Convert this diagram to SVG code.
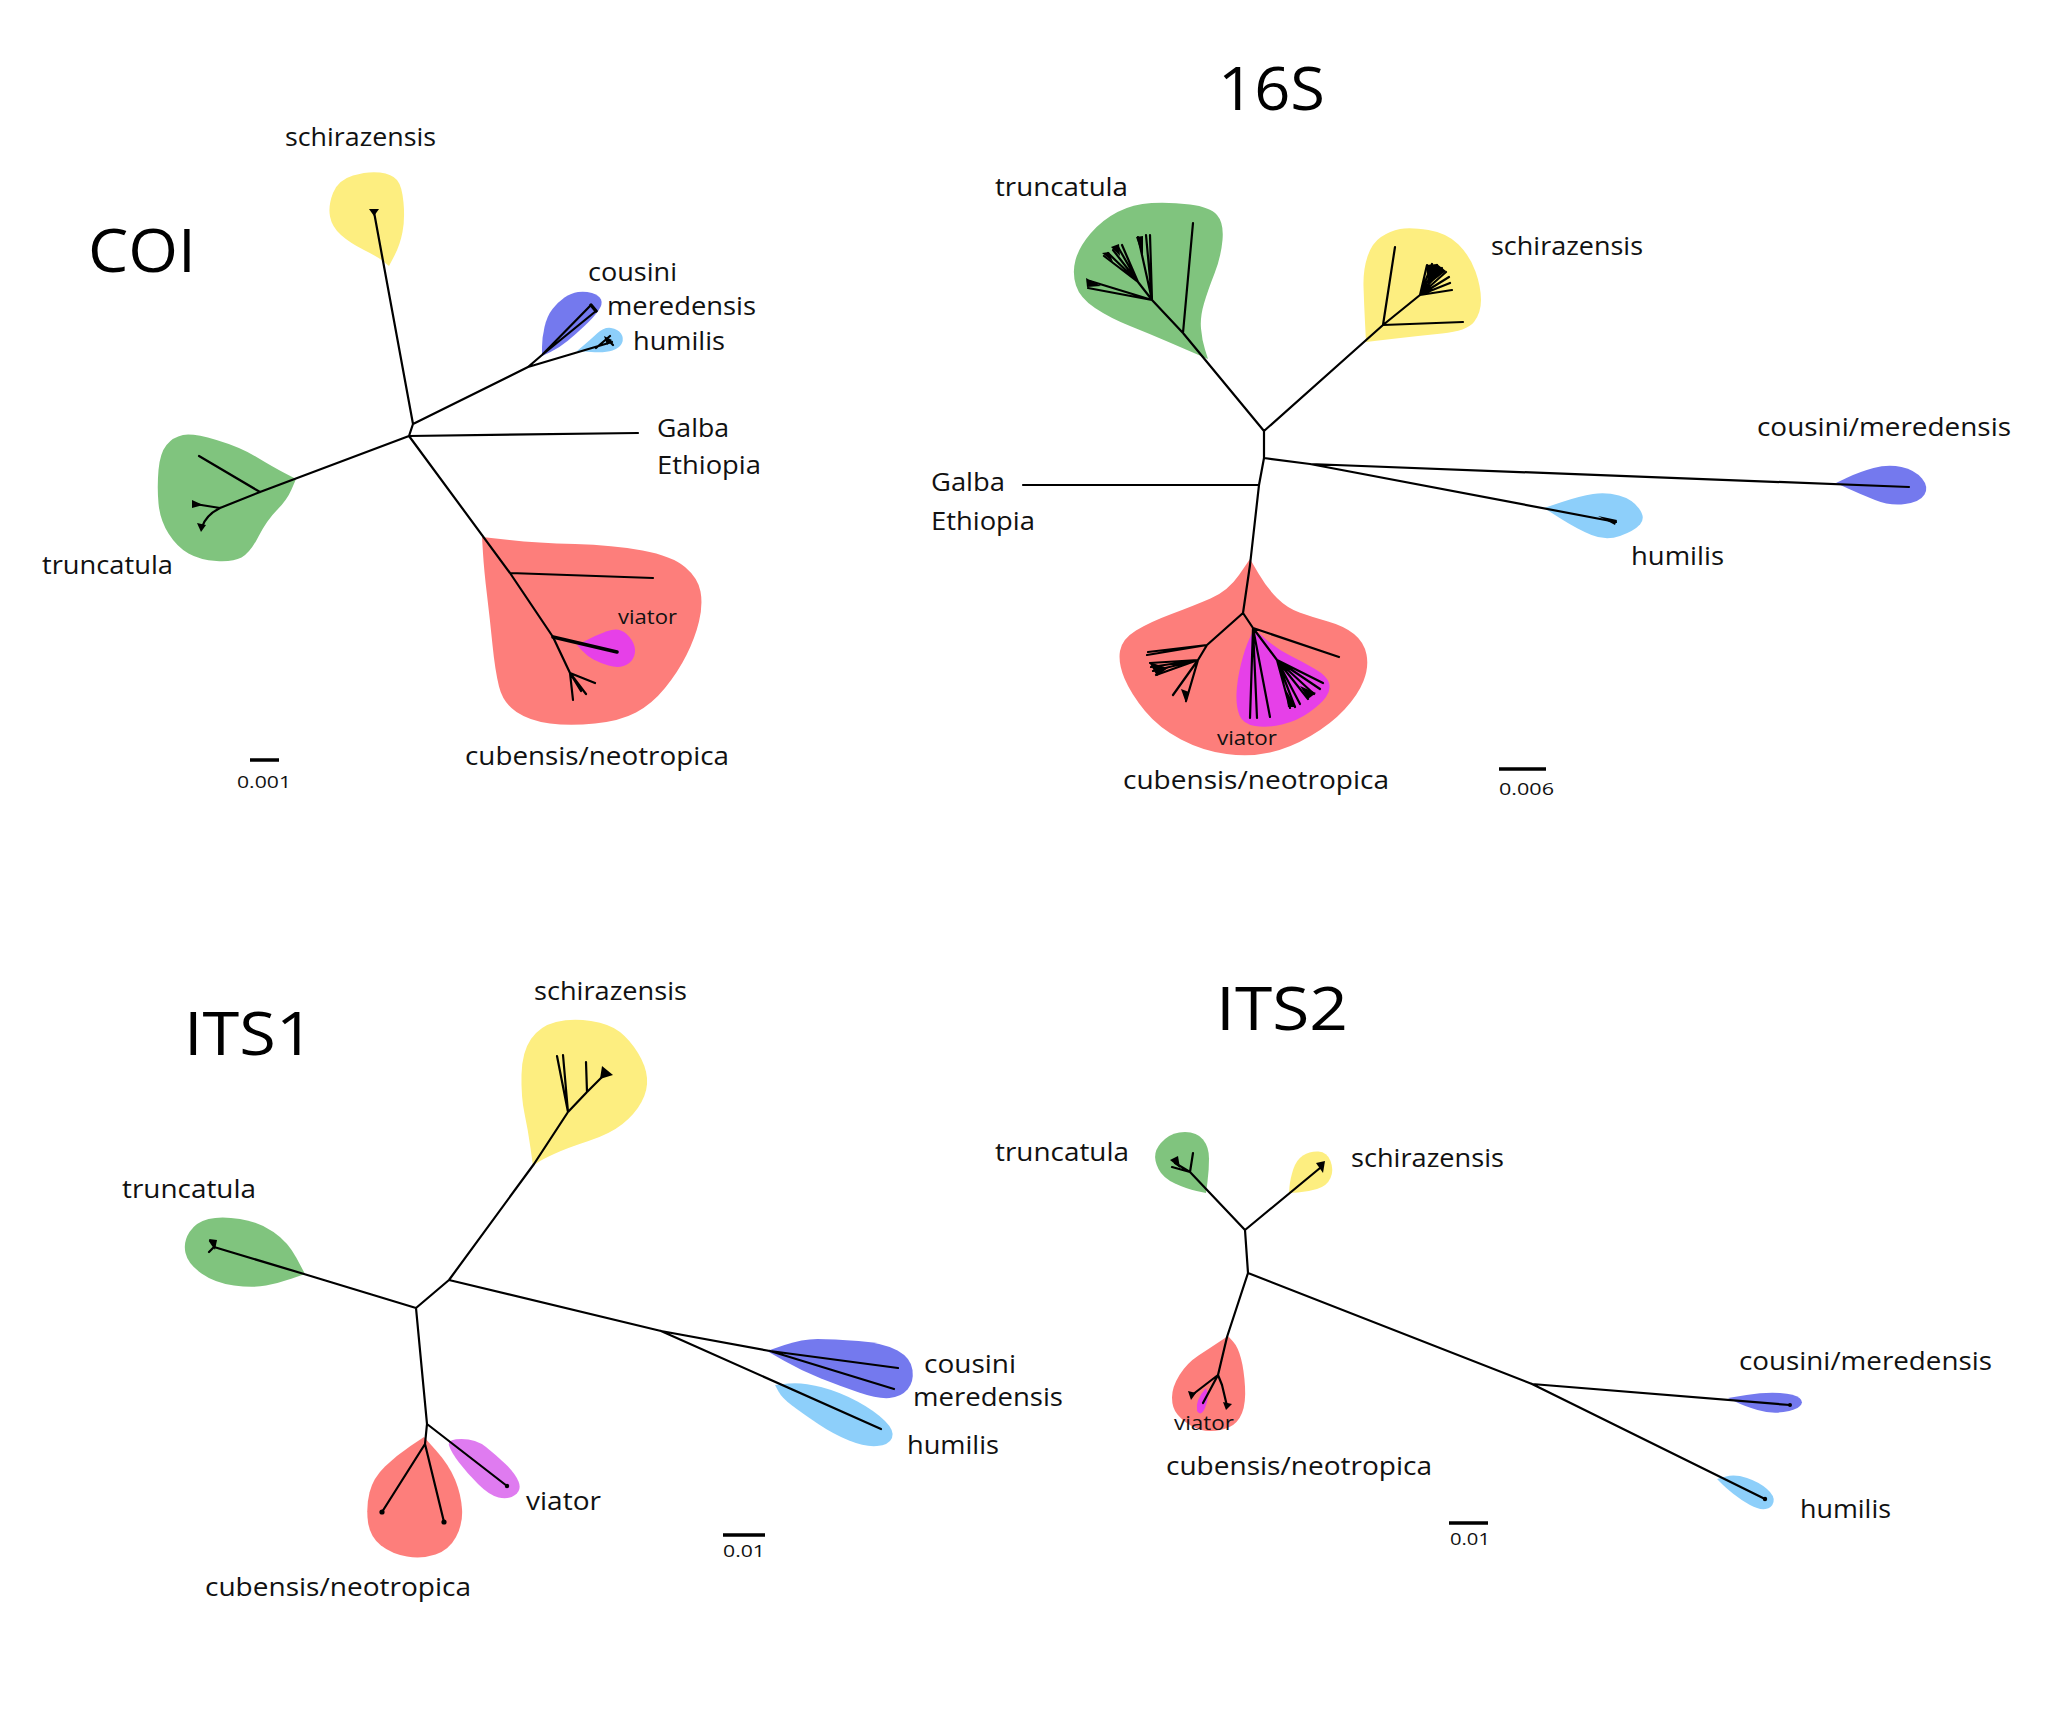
<svg xmlns="http://www.w3.org/2000/svg" width="2048" height="1716" viewBox="0 0 2048 1716">
<style>
.lbl{font-family:"Open Sans","Noto Sans","Liberation Sans",sans-serif;font-size:26px;fill:#111}
.ttl{font-family:"Open Sans","Noto Sans","Liberation Sans",sans-serif;font-size:60px;fill:#000}
.sm{font-size:20px}
.sc{font-size:17px}
.br{fill:none;stroke:#000;stroke-width:2.2;stroke-linecap:round;stroke-linejoin:round}
.wd{fill:#000}
.yel{fill:#fdee80}.grn{fill:#80c47e}.blu{fill:#7479ee}.lbu{fill:#8dcffa}.red{fill:#fd7e7b}.mag{fill:#e640e8}.vio{fill:#df7bf0}
.bar{stroke:#000;stroke-width:3.5}
</style>
<rect width="2048" height="1716" fill="#fff"/>

<!-- ===== COI ===== -->
<g id="coi">
<text class="ttl" x="88" y="272" textLength="108" lengthAdjust="spacingAndGlyphs">COI</text>
<g id="coi-schirazensis">
<path class="yel" d="M353,175.5 Q368,171 380,172.5 Q392,174 397,180 Q402,186 403.5,202.5 Q405,219 402.5,232 Q400,245 394.5,255.5 L389,266 L383.5,261.5 Q378,257 364,250 Q350,243 341,235 Q332,227 330,216.5 Q328,206 333,193 Q338,180 353,175.5Z"/>
<text class="lbl" x="285" y="146" textLength="151" lengthAdjust="spacingAndGlyphs">schirazensis</text>
</g>
<g id="coi-cousini">
<path class="blu" d="M578,292 Q585,291 592,293 Q599,295 601,299.5 Q603,304 598.5,310.5 Q594,317 585,325.5 Q576,334 567.5,341 Q559,348 550.5,352 L542,356 L542,347 Q542,338 544.5,327 Q547,316 552.5,309 Q558,302 564.5,297.5 Q571,293 578,292Z"/>
<text class="lbl" x="588" y="281" textLength="89" lengthAdjust="spacingAndGlyphs">cousini</text>
<text class="lbl" x="607" y="315" textLength="149" lengthAdjust="spacingAndGlyphs">meredensis</text>
</g>
<g id="coi-humilis">
<path class="lbu" d="M597,333.5 Q604,327 611,328 Q618,329 621,333.5 Q624,338 622,343 Q620,348 612.5,350.5 Q605,353 591,352 L577,351 L583.5,345.5 Q590,340 597,333.5Z"/>
<text class="lbl" x="633" y="350" textLength="92" lengthAdjust="spacingAndGlyphs">humilis</text>
</g>
<g id="coi-galba">
<text class="lbl" x="657" y="437" textLength="72" lengthAdjust="spacingAndGlyphs">Galba</text>
<text class="lbl" x="657" y="474" textLength="104" lengthAdjust="spacingAndGlyphs">Ethiopia</text>
</g>
<g id="coi-truncatula">
<path class="grn" d="M166.5,445 Q173,437 183,435 Q193,433 216.5,440 Q240,447 256.5,457 Q273,467 284.5,473 L296,479 L291.5,489.5 Q287,500 277,510 Q267,520 258.5,536.5 Q250,553 241.5,557.5 Q233,562 216.5,561 Q200,560 188.5,553.5 Q177,547 168.5,533.5 Q160,520 158.5,503.5 Q157,487 158.5,470 Q160,453 166.5,445Z"/>
<text class="lbl" x="42" y="574" textLength="131" lengthAdjust="spacingAndGlyphs">truncatula</text>
</g>
<g id="coi-cubensis">
<path class="red" d="M509.5,540 Q537,543 575,544 Q613,545 642.5,550.5 Q672,556 685,567 Q698,578 700.5,591.5 Q703,605 699,621.5 Q695,638 686.5,655 Q678,672 665,688 Q652,704 636,712.5 Q620,721 595,723.5 Q570,726 550,723.5 Q530,721 516.5,712 Q503,703 499,686.5 Q495,670 492.5,645 Q490,620 487,595 Q484,570 483,553.5 L482,537Z"/>
<text class="lbl" x="465" y="765" textLength="264" lengthAdjust="spacingAndGlyphs">cubensis/neotropica</text>
</g>
<g id="coi-viator">
<path class="mag" d="M577,645 L590,638.5 Q603,632 611.5,630 Q620,628 626.5,634 Q633,640 634.5,646.5 Q636,653 633,658.5 Q630,664 623.5,666 Q617,668 608.5,665.5 Q600,663 593.5,659.5 Q587,656 582,650.5 Z"/>
<text class="lbl sm" x="618" y="624" textLength="59" lengthAdjust="spacingAndGlyphs">viator</text>
</g>
<g id="coi-scale">
<line class="bar" x1="250" y1="760" x2="279" y2="760"/>
<text class="lbl sc" x="237" y="788" textLength="54" lengthAdjust="spacingAndGlyphs">0.001</text>
</g>
</g>

<!-- ===== 16S ===== -->
<g id="s16">
<text class="ttl" x="1218" y="110" textLength="107" lengthAdjust="spacingAndGlyphs">16S</text>
<g id="s16-truncatula">
<path class="grn" d="M1151.5,203 Q1170,202 1190,204.5 Q1210,207 1217,215 Q1224,223 1222.5,240 Q1221,257 1214.5,273.5 Q1208,290 1204,303.5 Q1200,317 1201,328.5 Q1202,340 1205,349.5 L1208,359 L1197.5,354.5 Q1187,350 1168.5,342 Q1150,334 1130,326 Q1110,318 1095,308 Q1080,298 1076,285.5 Q1072,273 1075.5,260 Q1079,247 1090.5,233.5 Q1102,220 1117.5,212 Q1133,204 1151.5,203Z"/>
<text class="lbl" x="995" y="196" textLength="133" lengthAdjust="spacingAndGlyphs">truncatula</text>
</g>
<g id="s16-schirazensis">
<path class="yel" d="M1400,229 Q1410,227 1428.5,230 Q1447,233 1458.5,244.5 Q1470,256 1475.5,271.5 Q1481,287 1481,300 Q1481,313 1474,322 Q1467,331 1442,333.5 Q1417,336 1391.5,339 L1366,342 L1365,322.5 Q1364,303 1363.5,286.5 Q1363,270 1367.5,256.5 Q1372,243 1381,237 Q1390,231 1400,229Z"/>
<text class="lbl" x="1491" y="255" textLength="152" lengthAdjust="spacingAndGlyphs">schirazensis</text>
</g>
<g id="s16-galba">
<text class="lbl" x="931" y="491" textLength="74" lengthAdjust="spacingAndGlyphs">Galba</text>
<text class="lbl" x="931" y="530" textLength="104" lengthAdjust="spacingAndGlyphs">Ethiopia</text>
</g>
<g id="s16-cousini">
<path class="blu" d="M1836,483 L1847.5,477.5 Q1859,472 1873.5,468 Q1888,464 1901.5,467 Q1915,470 1922,478.5 Q1929,487 1924.5,494.5 Q1920,502 1905,504 Q1890,506 1875,500 Q1860,494 1848,488.5 Z"/>
<text class="lbl" x="1757" y="436" textLength="254" lengthAdjust="spacingAndGlyphs">cousini/meredensis</text>
</g>
<g id="s16-humilis">
<path class="lbu" d="M1544,508 L1562,502 Q1580,496 1593,494 Q1606,492 1619,495.5 Q1632,499 1639,508.5 Q1646,518 1640,524.5 Q1634,531 1620,536 Q1606,541 1591.5,535 Q1577,529 1560.5,518.5 Z"/>
<text class="lbl" x="1631" y="565" textLength="93" lengthAdjust="spacingAndGlyphs">humilis</text>
</g>
<g id="s16-cubensis">
<path class="red" d="M1250,559 L1258.5,573.5 Q1267,588 1277,598 Q1287,608 1299.5,612.5 Q1312,617 1328,621.5 Q1344,626 1354,634 Q1364,642 1366.5,654.5 Q1369,667 1363.5,681 Q1358,695 1344.5,709.5 Q1331,724 1310.5,736 Q1290,748 1270,752.5 Q1250,757 1226.5,754 Q1203,751 1181,739.5 Q1159,728 1145,711 Q1131,694 1124.5,678.5 Q1118,663 1120,651 Q1122,639 1136,630.5 Q1150,622 1171.5,614 Q1193,606 1210.5,598.5 Q1228,591 1239,575 Z"/>
<text class="lbl" x="1123" y="789" textLength="266" lengthAdjust="spacingAndGlyphs">cubensis/neotropica</text>
</g>
<g id="s16-viator">
<path class="mag" d="M1254,629 L1265.5,639 Q1277,649 1290,655.5 Q1303,662 1315,669 Q1327,676 1329,683 Q1331,690 1326,697 Q1321,704 1309,712.5 Q1297,721 1282,724.5 Q1267,728 1255,726 Q1243,724 1239.5,715.5 Q1236,707 1236.5,693.5 Q1237,680 1241,664 Q1245,648 1249.5,638.5 Z"/>
<text class="lbl sm" x="1217" y="745" textLength="60" lengthAdjust="spacingAndGlyphs">viator</text>
</g>
<g id="s16-scale">
<line class="bar" x1="1499" y1="769" x2="1546" y2="769"/>
<text class="lbl sc" x="1499" y="795" textLength="55" lengthAdjust="spacingAndGlyphs">0.006</text>
</g>
</g>

<!-- ===== ITS1 ===== -->
<g id="its1">
<text class="ttl" x="184" y="1055" textLength="130" lengthAdjust="spacingAndGlyphs">ITS1</text>
<g id="its1-schirazensis">
<path class="yel" d="M556,1022 Q572,1018 591,1021 Q610,1024 620,1032 Q630,1040 638,1053 Q646,1066 647,1078 Q648,1090 641.5,1102 Q635,1114 622.5,1124 Q610,1134 588.5,1141 Q567,1148 554,1154 Q541,1160 537,1163 L533,1166 L530.5,1148 Q528,1130 524.5,1113.5 Q521,1097 521.5,1074.5 Q522,1052 531,1039 Q540,1026 556,1022Z"/>
<text class="lbl" x="534" y="1000" textLength="153" lengthAdjust="spacingAndGlyphs">schirazensis</text>
</g>
<g id="its1-truncatula">
<path class="grn" d="M208.5,1219 Q221,1216 240,1219 Q259,1222 273.5,1232 Q288,1242 296.5,1258 L305,1274 L292,1278.5 Q279,1283 266,1285.5 Q253,1288 234,1285.5 Q215,1283 201.5,1273.5 Q188,1264 185.5,1253 Q183,1242 189.5,1232 Q196,1222 208.5,1219Z"/>
<text class="lbl" x="122" y="1198" textLength="134" lengthAdjust="spacingAndGlyphs">truncatula</text>
</g>
<g id="its1-cousini">
<path class="blu" d="M767,1351 L784.5,1345 Q802,1339 817.5,1339 Q833,1339 858.5,1341 Q884,1343 897.5,1350.5 Q911,1358 912.5,1370 Q914,1382 907.5,1389.5 Q901,1397 889.5,1398 Q878,1399 859,1392.5 Q840,1386 821,1378.5 Q802,1371 784.5,1361 Z"/>
<text class="lbl" x="924" y="1373" textLength="92" lengthAdjust="spacingAndGlyphs">cousini</text>
<text class="lbl" x="913" y="1406" textLength="150" lengthAdjust="spacingAndGlyphs">meredensis</text>
</g>
<g id="its1-humilis">
<path class="lbu" d="M775,1385 L788.5,1383.5 Q802,1382 821,1387 Q840,1392 857.5,1401.5 Q875,1411 885,1421 Q895,1431 892,1438 Q889,1445 877,1446 Q865,1447 849,1440.5 Q833,1434 817.5,1423.5 Q802,1413 792,1405.5 Q782,1398 778.5,1391.5 Z"/>
<text class="lbl" x="907" y="1454" textLength="92" lengthAdjust="spacingAndGlyphs">humilis</text>
</g>
<g id="its1-cubensis">
<path class="red" d="M424,1437 L436.5,1451 Q449,1465 455,1479.5 Q461,1494 462,1509 Q463,1524 456,1537 Q449,1550 435.5,1554.5 Q422,1559 407,1556.5 Q392,1554 381,1545.5 Q370,1537 368,1522 Q366,1507 369.5,1492.5 Q373,1478 385,1466.5 Q397,1455 410.5,1446 Z"/>
<text class="lbl" x="205" y="1596" textLength="266" lengthAdjust="spacingAndGlyphs">cubensis/neotropica</text>
</g>
<g id="its1-viator">
<path class="vio" d="M449,1445.5 Q447,1439 461.5,1439 Q476,1439 486,1447 Q496,1455 505.5,1464 Q515,1473 518.5,1481.5 Q522,1490 515,1495 Q508,1500 498.5,1497.5 Q489,1495 478,1484 Q467,1473 459,1462.5 Q451,1452 449,1445.5Z"/>
<text class="lbl" x="526" y="1510" textLength="75" lengthAdjust="spacingAndGlyphs">viator</text>
</g>
<g id="its1-scale">
<line class="bar" x1="723" y1="1535" x2="765" y2="1535"/>
<text class="lbl sc" x="723" y="1557" textLength="42" lengthAdjust="spacingAndGlyphs">0.01</text>
</g>
</g>

<!-- ===== ITS2 ===== -->
<g id="its2">
<text class="ttl" x="1216" y="1030" textLength="132" lengthAdjust="spacingAndGlyphs">ITS2</text>
<g id="its2-truncatula">
<path class="grn" d="M1155.5,1153 Q1157,1146 1165,1139 Q1173,1132 1185,1132 Q1197,1132 1203,1139.5 Q1209,1147 1209,1158.5 Q1209,1170 1207.5,1181.5 L1206,1193 L1196.5,1191 Q1187,1189 1175,1183.5 Q1163,1178 1158.5,1169 Q1154,1160 1155.5,1153Z"/>
<text class="lbl" x="995" y="1161" textLength="134" lengthAdjust="spacingAndGlyphs">truncatula</text>
</g>
<g id="its2-schirazensis">
<path class="yel" d="M1293,1170 Q1296,1160 1303,1155.5 Q1310,1151 1318.5,1151.5 Q1327,1152 1330.5,1161 Q1334,1170 1330.5,1178 Q1327,1186 1317,1189 Q1307,1192 1298,1192.5 L1289,1193 L1289.5,1186.5 Q1290,1180 1293,1170Z"/>
<text class="lbl" x="1351" y="1167" textLength="153" lengthAdjust="spacingAndGlyphs">schirazensis</text>
</g>
<g id="its2-cousini">
<path class="blu" d="M1728,1398 L1746.5,1395 Q1765,1392 1780,1393 Q1795,1394 1799.5,1398 Q1804,1402 1800,1406 Q1796,1410 1783.5,1412 Q1771,1414 1757.5,1410 Q1744,1406 1736,1402 Z"/>
<text class="lbl" x="1739" y="1370" textLength="253" lengthAdjust="spacingAndGlyphs">cousini/meredensis</text>
</g>
<g id="its2-humilis">
<path class="lbu" d="M1717,1479 L1726,1476.5 Q1735,1474 1747,1478 Q1759,1482 1767,1489 Q1775,1496 1773.5,1502 Q1772,1508 1765.5,1509 Q1759,1510 1750,1505 Q1741,1500 1733.5,1494 Q1726,1488 1721.5,1483.5 Z"/>
<text class="lbl" x="1800" y="1518" textLength="91" lengthAdjust="spacingAndGlyphs">humilis</text>
</g>
<g id="its2-cubensis">
<path class="red" d="M1228,1336 L1219,1342 Q1210,1348 1198.5,1355.5 Q1187,1363 1179.5,1375 Q1172,1387 1172,1397.5 Q1172,1408 1177.5,1414.5 Q1183,1421 1191.5,1426 Q1200,1431 1210.5,1431 Q1221,1431 1229.5,1427 Q1238,1423 1242,1413 Q1246,1403 1245,1386.5 Q1244,1370 1241,1358.5 Q1238,1347 1233,1341.5 Z"/>
<text class="lbl" x="1166" y="1475" textLength="266" lengthAdjust="spacingAndGlyphs">cubensis/neotropica</text>
</g>
<g id="its2-viator">
<path class="mag" d="M1206,1388 Q1210,1396 1205,1408 Q1201,1417 1197,1411 Q1195,1400 1206,1388Z"/>
<text class="lbl sm" x="1174" y="1430" textLength="60" lengthAdjust="spacingAndGlyphs">viator</text>
</g>
<g id="its2-scale">
<line class="bar" x1="1449" y1="1523" x2="1488" y2="1523"/>
<text class="lbl sc" x="1450" y="1545" textLength="40" lengthAdjust="spacingAndGlyphs">0.01</text>
</g>
</g>

<!-- ===== connectors (tree branches) ===== -->
<g id="connectors">
<!-- COI -->
<path class="br" d="M413,424 L409,436 M413,424 L374,212 M413,424 L528,367 L542,355 L591,305 M542,355 L596,311 M528,367 L612,342 M596,348 L610,336 M609,341 L613,345 M409,436 L638,433 M409,436 L260,492 L220,508 M260,492 L199,456 M220,508 L195,504 M220,508 Q206,515 202,527 M409,436 L510,573 L553,637 L570,673 M510,573 L653,578 M570,673 L595,683 M570,673 L573,700 M570,673 L586,694 M570,673 L581,691"/>
<path class="br" style="stroke-width:3.5" d="M553,637 L617,652 M591,305 L596,311"/>
<polygon class="wd" points="369,209 379,209 374,216"/>
<polygon class="wd" points="192,500 192,508 203,505"/>
<polygon class="wd" points="197,523 206,525 201,532"/>
<polygon class="wd" points="604,336 612,340 607,345"/>
<!-- 16S -->
<path class="br" d="M1264,431 L1264,458 L1259,485 L1250,565 L1243,613 M1264,431 L1183,333 L1152,300 M1183,333 L1193,223 M1152,300 L1090,281 M1152,300 L1088,288 M1152,300 L1138,282 M1138,282 L1104,256 M1138,282 L1108,253 M1138,282 L1113,250 M1138,282 L1118,247 M1138,282 L1122,245 M1152,300 L1138,237 M1152,300 L1146,235 M1152,300 L1150,235 M1264,431 L1383,325 L1420,295 M1383,325 L1463,322 M1383,325 L1395,247 M1420,295 L1452,290 M1420,295 L1427,265 M1420,295 L1432,264 M1420,295 L1437,265 M1420,295 L1442,268 M1420,295 L1446,272 M1420,295 L1449,277 M1420,295 L1450,283 M1259,485 L1023,485 M1264,458 L1310,464 L1909,487 M1310,464 L1616,522 M1243,613 L1207,645 L1148,652 M1207,645 L1147,655 M1207,645 L1198,660 M1198,660 L1150,663 M1198,660 L1151,667 M1198,660 L1153,671 M1198,660 L1156,675 M1198,660 L1173,695 M1198,660 L1186,701 M1243,613 L1253,628 L1339,657 M1253,628 L1250,718 M1253,628 L1257,718 M1253,628 L1270,717 M1253,628 L1277,660 M1277,660 L1290,708 M1277,660 L1295,707 M1277,660 L1300,704 M1277,660 L1308,699 M1277,660 L1314,694 M1277,660 L1320,689 M1277,660 L1323,683"/>
<polygon class="wd" points="1086,278 1087,287 1101,286"/>
<polygon class="wd" points="1102,253 1109,252 1113,262"/>
<polygon class="wd" points="1111,247 1119,244 1120,256"/>
<polygon class="wd" points="1136,237 1143,236 1143,257"/>
<polygon class="wd" points="1426,265 1437,264 1446,271 1428,285"/>
<polygon class="wd" points="1598,516 1617,520 1615,525"/>
<polygon class="wd" points="1149,662 1157,676 1168,668"/>
<polygon class="wd" points="1181,689 1189,692 1186,703"/>
<polygon class="wd" points="1288,707 1296,707 1286,690"/>
<polygon class="wd" points="1308,699 1316,693 1300,686"/>
<!-- ITS1 -->
<path class="br" d="M416,1308 L449,1280 L534,1164 L568,1112 L587,1092 L602,1077 M568,1112 L557,1056 M568,1112 L563,1055 M587,1092 L586,1062 M416,1308 L304,1274 L214,1247 M214,1247 L210,1241 M214,1247 L209,1252 M449,1280 L661,1331 L770,1351 L898,1368 M770,1351 L894,1389 M661,1331 L881,1429 M416,1308 L427,1424 L507,1486 M427,1424 L425,1444 L382,1512 M425,1444 L444,1522"/>
<polygon class="wd" points="602,1066 613,1075 600,1079"/>
<polygon class="wd" points="209,1239 217,1240 215,1250"/>
<circle class="wd" cx="382" cy="1512" r="2.6"/>
<circle class="wd" cx="444" cy="1522" r="2.6"/>
<circle class="wd" cx="507" cy="1486" r="2.2"/>
<!-- ITS2 -->
<path class="br" d="M1245,1230 L1248,1273 M1245,1230 L1190,1172 L1175,1163 M1190,1172 L1193,1153 M1190,1172 L1172,1167 M1245,1230 L1320,1168 M1248,1273 L1532,1384 L1790,1405 M1532,1384 L1765,1499 M1248,1273 L1227,1337 L1218,1375 L1192,1395 M1218,1375 L1203,1403 M1218,1375 L1222,1385 L1227,1406"/>
<polygon class="wd" points="1170,1160 1178,1156 1180,1168"/>
<polygon class="wd" points="1316,1163 1325,1161 1323,1173"/>
<polygon class="wd" points="1188,1391 1196,1393 1191,1400"/>
<polygon class="wd" points="1223,1402 1232,1404 1226,1410"/>
<circle class="wd" cx="1790" cy="1405" r="2"/>
<circle class="wd" cx="1765" cy="1499" r="2.2"/>
</g>
</svg>
